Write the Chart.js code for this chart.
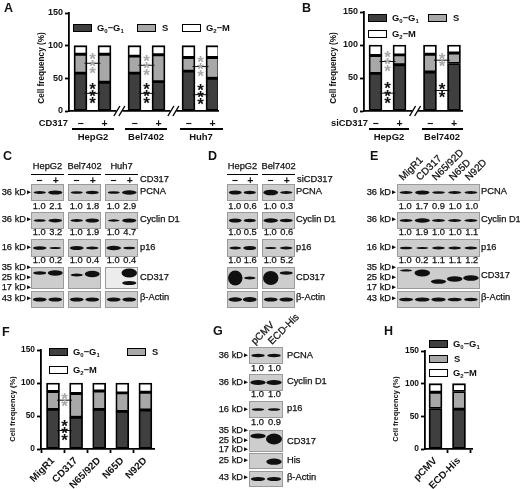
<!DOCTYPE html>
<html><head><meta charset="utf-8">
<script src="https://cdn.jsdelivr.net/npm/chart.js@4"></script>
<style>
html,body{margin:0;padding:0;background:#fff}
#page{position:relative;width:520px;height:489px;overflow:hidden;font-family:"Liberation Sans",Arial,sans-serif;color:#111;filter:blur(.3px)}
#page canvas{position:absolute}
.t{position:absolute;white-space:nowrap;line-height:1;font-size:9.3px}
.t sub{font-size:6px;line-height:0;vertical-align:-2px}
.b{font-weight:700}
.m{-webkit-text-stroke:.25px #111}
.sw{position:absolute;box-sizing:border-box;border:1.8px solid #000}
.ln{position:absolute;background:#000}
.tri{display:inline-block;width:0;height:0;border-left:4px solid #111;border-top:2.5px solid transparent;border-bottom:2.5px solid transparent;margin-left:1px;vertical-align:1px}
.strip{position:absolute;box-sizing:border-box;border:1px solid #9a9a9a}
.strip canvas{position:absolute;left:0;top:0}
</style></head><body><div id="page"></div>
<script>
// ---------- DATA ----------
const seriesNames=['G<sub>0</sub>−G<sub>1</sub>','S','G<sub>2</sub>−M'];
const seriesColors=['#3f3f3f','#a8a8a8','#ffffff'];
const yTicks=[0,50,100,150];

const aLanes=['−','+','−','+','−','+'];
const aGroups=['HepG2','Bel7402','Huh7'];
const aG0=[58,44,58,45,61,50];
const aS=[29,43,26,41,21,32];
const aG2=[13,13,16,14,18,18];

const bLanes=['−','+','−','+'];
const bGroups=['HepG2','Bel7402'];
const bG0=[57,70,59,72];
const bS=[27,15,27,16];
const bG2=[16,15,14,12];

const fLabels=['MigR1','CD317','N65/92D','N65D','N92D'];
const fG0=[60,48,60,57,59];
const fS=[27,36,28,28,27];
const fG2=[13,16,12,15,14];

const hLabels=['pCMV','ECD-His'];
const hG0=[62,61];
const hS=[25,27];
const hG2=[13,12];

// significance: [left lane, right lane, value, number of stars, 0 = grey / 1 = black]
const aSig=[[0,1,73,3,0],[0,1,27,3,1],[2,3,70,3,0],[2,3,27,3,1],[4,5,68,3,0],[4,5,25,3,1]];
const bSig=[[0,1,75,3,0],[0,1,27,3,1],[2,3,77,2,0],[2,3,31,2,1]];
const fSig=[[0,1,74,2,0],[0,1,28,3,1]];

// blots: band strength per lane, one row per protein
const cHepG2=[[.35,.8],[.3,.65],[.6,.12],[[0,25,.5],[1,25,1.2]],[.7,.7]];
const cBel=[[.3,.5],[.4,.7],[.7,.4],[[0,35,.35],[1,30,1.5]],[.7,.7]];
const cHuh=[[.3,.9],[.2,.8],[.9,.3],[[1,25,2.4],[1,75,.8]],[.7,.7]];
const dHepG2=[[.7,.5],[.7,.5],[.4,.7],[[0,50,4.4],[1,50,.35]],[.9,1]];
const dBel=[[1.3,.35],[.9,.5],[.1,.4],[[0,50,4],[1,25,.5]],[.7,.7]];
const eBands=[[.4,.7,.3,.4,.35],[.4,.9,.4,.4,.4],[.3,.1,.35,.35,.35],[[0,12,.1],[1,25,1.7],[2,68,.9],[3,55,1.2],[4,50,1.3]],[.6,.8,.7,.6,.5]];
const gBands=[[.5,.5],[1,1],[.3,.25],[[0,25,1],[1,40,3]],[[1,55,1.5]],[.7,.7]];

const cNums=[[['1.0','2.1'],['1.0','3.2'],['1.0','0.2']],[['1.0','1.8'],['1.0','1.9'],['1.0','0.4']],[['1.0','2.9'],['1.0','4.7'],['1.0','0.4']]];
const dNums=[[['1.0','0.6'],['1.0','0.5'],['1.0','1.6']],[['1.0','0.3'],['1.0','0.6'],['1.0','5.2']]];
const eNums=[['1.0','1.7','0.9','1.0','1.0'],['1.0','1.9','1.0','1.0','1.1'],['1.0','0.2','1.1','1.1','1.2']];
const gNums=[['1.0','1.0'],['1.0','1.0'],['1.0','0.9']];
const kdCDE=[['36 kD',193],['36 kD',220],['16 kD',248],['35 kD',268],['25 kD',278],['17 kD',288],['43 kD',299]];
const kdG=[['36 kD',356],['36 kD',383],['16 kD',410],['35 kD',431],['25 kD',441],['17 kD',450],['25 kD',461],['43 kD',478]];

// ---------- HELPERS ----------
const page=document.getElementById('page');
const FONT='"Liberation Sans",Arial,sans-serif';
function t(html,x,y,o={}){
  const d=document.createElement('div');d.className='t '+(o.c||'m');d.innerHTML=html;
  if(o.size)d.style.fontSize=o.size+'px';
  d.style.top=y+'px';
  if(o.vert){d.style.left=x+'px';d.style.transform='translate(-50%,-50%) rotate(-90deg)';}
  else if(o.rot){d.style.left=x+'px';d.style.transformOrigin='0 50%';d.style.transform=`translateY(-50%) rotate(${o.rot}deg)`;}
  else if(o.a==='r'){d.style.right=(520-x)+'px';d.style.transform='translateY(-50%)';}
  else if(o.a==='c'){d.style.left=x+'px';d.style.transform='translate(-50%,-50%)';}
  else{d.style.left=x+'px';d.style.transform='translateY(-50%)';}
  page.appendChild(d);return d;
}
function line(x1,y,x2,h=1.5){const d=document.createElement('div');d.className='ln';
  d.style.cssText=`left:${x1}px;top:${y}px;width:${x2-x1}px;height:${h}px`;page.appendChild(d);}
function legendItem(i,x,y,w=19,h=8){
  const s=document.createElement('div');s.className='sw';
  s.style.cssText=`left:${x}px;top:${y-h/2}px;width:${w}px;height:${h}px;background:${seriesColors[i]}`;
  page.appendChild(s);
  t(seriesNames[i],x+w+(i==1?6:5),y,{c:'b',size:9.4});
}
const barDeco={id:'barDeco',afterDatasetsDraw(ch,_,o){
  const c=ch.ctx,xs=ch.scales.x,ys=ch.scales.y,base=ch.chartArea.bottom;
  (o.sig||[]).forEach(([l,r,v,n,k])=>{
    const x1=xs.getPixelForValue(o.pos[l]),x2=xs.getPixelForValue(o.pos[r]),y=ys.getPixelForValue(v),col=k?'#111':'#a9a9a9';
    c.save();c.strokeStyle='#111';c.lineWidth=1;c.beginPath();c.moveTo(x1+4,y);c.lineTo(x2-4,y);c.stroke();
    c.fillStyle=col;c.font=`bold 17px ${FONT}`;c.textAlign='center';c.textBaseline='middle';
    for(let i=0;i<n;i++)c.fillText('*',(x1+x2)/2,y+(i-(n-1)/2)*7.2+3.8);
    c.restore();
  });
  (o.breaks||[]).forEach(v=>{
    const x=xs.getPixelForValue(v);
    c.save();c.fillStyle='#fff';c.fillRect(x-3,base-2,6,4);
    c.strokeStyle='#000';c.lineWidth=1.4;
    [-2.5,2.5].forEach(d=>{c.beginPath();c.moveTo(x+d-3,base+5);c.lineTo(x+d+3,base-5);c.stroke();});
    c.restore();
  });
}};
function barChart(cfg){
  const L=cfg.spine-28,T=cfg.y150-8,R=cfg.xEnd+5,B=cfg.bottom;
  const cv=document.createElement('canvas');cv.width=R-L;cv.height=B-T;
  cv.style.cssText=`left:${L}px;top:${T}px;width:${R-L}px;height:${B-T}px`;page.appendChild(cv);
  const mk=(d,i)=>({data:d.map((y,j)=>({x:cfg.pos[j],y})),backgroundColor:seriesColors[i],borderColor:'#000',borderWidth:1.8,borderSkipped:false,barThickness:13,stack:'s',grouped:false});
  new Chart(cv,{type:'bar',plugins:[barDeco],
    data:{datasets:cfg.series.map(mk)},
    options:{responsive:false,animation:false,
      layout:{padding:{left:0,top:8,right:5,bottom:0}},
      plugins:{legend:{display:false},tooltip:{enabled:false},barDeco:{sig:cfg.sig,pos:cfg.pos,breaks:cfg.breaks}},
      scales:{
        x:{type:'linear',stacked:true,offset:false,min:(cfg.spine-cfg.first)/cfg.step,max:(cfg.xEnd-cfg.first)/cfg.step,
          afterFit:s=>{s.height=B-cfg.y0;},
          afterBuildTicks:s=>{s.ticks=cfg.pos.map(v=>({value:v}));},
          grid:{display:true,drawOnChartArea:false,drawTicks:cfg.xTick>0,tickLength:cfg.xTick,tickWidth:1.8,tickColor:'#000'},
          border:{display:true,color:'#000',width:1.8},
          ticks:{autoSkip:false,maxRotation:cfg.rot||0,minRotation:cfg.rot||0,padding:cfg.tickPad,color:'#111',
            font:{family:FONT,weight:'bold',size:cfg.xFont||10.5},callback:(v,i)=>cfg.labels[i]}},
        y:{stacked:true,min:0,max:150,
          afterFit:s=>{s.width=cfg.spine-L;},
          afterBuildTicks:s=>{s.ticks=yTicks.map(v=>({value:v}));},
          grid:{display:true,drawOnChartArea:false,tickLength:4,tickWidth:1.8,tickColor:'#000'},
          border:{display:true,color:'#000',width:1.8},
          title:{display:false},
          ticks:{padding:2,color:'#111',font:{family:FONT,weight:'bold',size:cfg.yFont||9}}}
      }}});
  t('Cell frequency (%)',cfg.titleX,cfg.titleY,{vert:1,c:'b',size:cfg.titleSize});
}
const bandDraw={id:'bandDraw',afterDatasetsDraw(ch){
  const c=ch.ctx,m=ch.getDatasetMeta(0),lw=ch.chartArea.width/(ch.scales.x.max-ch.scales.x.min);
  c.save();
  c.fillStyle='#101010';c.filter='blur(.7px)';
  m.data.forEach((el,i)=>{
    const s=ch.data.datasets[0].data[i].s;
    let hw=lw*.48*Math.min(1,.72+.3*s),hh=.9+1.5*s;
    if(s>2)hw=lw*.5;
    c.beginPath();c.ellipse(el.x,el.y,hw,hh,0,0,Math.PI*2);c.fill();
  });
  c.restore();
}};
function strip(x,y1,x2,y2,nLanes,bands,bg){
  const w=x2-x,h=y2-y1;
  const d=document.createElement('div');d.className='strip';
  d.style.cssText=`left:${x}px;top:${y1}px;width:${w}px;height:${h}px;background:${bg||'#cdcdcd'}`;
  page.appendChild(d);
  const cv=document.createElement('canvas');cv.width=w-2;cv.height=h-2;cv.style.cssText=`width:${w-2}px;height:${h-2}px`;d.appendChild(cv);
  const pts=Array.isArray(bands[0])
    ?bands.map(([l,m,s])=>({x:l,y:m,r:0,s}))
    :bands.map((s,l)=>({x:l,y:50,r:0,s}));
  new Chart(cv,{type:'bubble',plugins:[bandDraw],data:{datasets:[{data:pts,backgroundColor:'rgba(0,0,0,0)',borderWidth:0}]},
    options:{responsive:false,animation:false,layout:{padding:0},plugins:{legend:{display:false},tooltip:{enabled:false}},
      scales:{x:{display:false,min:-.5,max:nLanes-.5},y:{display:false,reverse:true,min:0,max:100}}}});
}
function kd(list,xEnd){list.forEach(([s,y])=>t(s+'<span class="tri"></span>',xEnd,y,{a:'r'}));}

// ---------- BAR PANELS ----------
const grpPos=(lanes,gap)=>lanes.map((_,i)=>Math.floor(i/2)*gap+i);
const aPos=grpPos(aLanes,.25), bPos=grpPos(bLanes,.27);
barChart({titleX:42,titleY:67.5,titleSize:8.2,spine:69,y150:13,y0:111,xEnd:218,first:80.5,step:24,bottom:130,pos:aPos,labels:aLanes,xTick:0,tickPad:7,
  series:[aG0,aS,aG2],sig:aSig,breaks:[1.62,3.87]});
barChart({titleX:334,titleY:68,titleSize:8.2,spine:364,y150:12,y0:111,xEnd:462,first:375.5,step:24,bottom:130,pos:bPos,labels:bLanes,xTick:0,tickPad:7,
  series:[bG0,bS,bG2],sig:bSig,breaks:[1.65]});
barChart({titleX:13,titleY:409,titleSize:7.5,yFont:8.4,xFont:10,spine:41,y150:350,y0:449,xEnd:154,first:53,step:23.1,bottom:489,pos:fLabels.map((_,i)=>i),labels:fLabels,xTick:4,tickPad:2,rot:45,
  series:[fG0,fS,fG2],sig:fSig});
barChart({titleX:396,titleY:409,titleSize:7.5,yFont:8.4,xFont:10,spine:425,y150:351,y0:449,xEnd:472,first:435.5,step:23.5,bottom:489,pos:hLabels.map((_,i)=>i),labels:hLabels,xTick:4,tickPad:2,rot:45,
  series:[hG0,hS,hG2]});

// legends
legendItem(0,73,28);legendItem(1,137,28);legendItem(2,182,28);
legendItem(0,368,18);legendItem(1,428,18);legendItem(2,368,33.5);
legendItem(0,49,352);legendItem(1,127,352);legendItem(2,49,369.5);
legendItem(0,429,344);legendItem(1,429,359);legendItem(2,429,373);

// group labels under A and B
t('CD317',68,123,{a:'r',c:'b',size:9.4});
[[72,114,93,0],[125,167,146,1],[180,223,201,2]].forEach(([a,b,c,i])=>{line(a,128,b);t(aGroups[i],c,137,{a:'c',c:'b',size:9.5});});
t('siCD317',368,123,{a:'r',c:'b',size:9.4});
[[369,409,389,0],[422,463,442,1]].forEach(([a,b,c,i])=>{line(a,128,b);t(bGroups[i],c,137,{a:'c',c:'b',size:9.5});});

// ---------- BLOTS ----------
const yRows=[[184,201],[212,229],[239,257],[267,289],[291,308]];
const numY=[207,233,261];
function blotCol(x1,x2,bands,nLanes,nums,head,ySet,yNums,bgs){
  const lane=i=>x1+(x2-x1)*(i+.5)/nLanes;
  ySet.forEach((r,i)=>strip(x1,r[0],x2,r[1],nLanes,bands[i],bgs&&bgs[i]));
  yNums.forEach((y,i)=>nums[i].forEach((s,j)=>t(s,lane(j),y,{a:'c'})));
  if(head){t(head,(x1+x2)/2,167,{a:'c'});line(x1,173.5,x2,1.5);
    t('−',lane(0),180,{a:'c',c:'b',size:10.5});t('+',lane(1),180,{a:'c',c:'b',size:10.5});}
}
// C
blotCol(31,64,cHepG2,2,cNums[0],'HepG2',yRows,numY);
blotCol(68,101,cBel,2,cNums[1],'Bel7402',yRows,numY);
blotCol(105,138,cHuh,2,cNums[2],'Huh7',yRows,numY,[0,0,0,'#ececec',0]);
kd(kdCDE,31);
t('CD317',140,180);
[['PCNA',192],['Cyclin D1',220],['p16',248],['CD317',278],['β-Actin',298]].forEach(([s,y])=>t(s,140,y));
// D
blotCol(227,258,dHepG2,2,dNums[0],'HepG2',yRows,numY);
blotCol(262,295,dBel,2,dNums[1],'Bel7402',yRows,numY);
t('siCD317',297,180);
[['PCNA',192],['Cyclin D1',220],['p16',248],['CD317',278],['β-Actin',298]].forEach(([s,y])=>t(s,296,y));
// E
blotCol(397,480,eBands,5,eNums,null,yRows,numY);
kd(kdCDE,396);
[['PCNA',192],['Cyclin D1',220],['p16',248],['CD317',276],['β-Actin',298]].forEach(([s,y])=>t(s,481,y));
fLabels.forEach((s,i)=>t(s,401+i*16.5,179,{rot:-45,size:10}));
// G
const gRows=[[347,364],[374,391],[401,418],[430,452],[453,469],[471,487]];
blotCol(249,283,gBands,2,gNums,null,gRows,[369,395,423]);
kd(kdG,248);
[['PCNA',356],['Cyclin D1',382],['p16',409],['CD317',442],['His',461],['β-Actin',478]].forEach(([s,y])=>t(s,287,y));
hLabels.forEach((s,i)=>t(s,253+i*17,343,{rot:-45,size:10}));

// panel letters
[['A',4,8],['B',302,8],['C',3,156],['D',208,156],['E',370,156],['F',2,332],['G',213,331],['H',384,331]]
  .forEach(([s,x,y])=>t(s,x,y,{c:'b',size:12.5}));
</script></body></html>
